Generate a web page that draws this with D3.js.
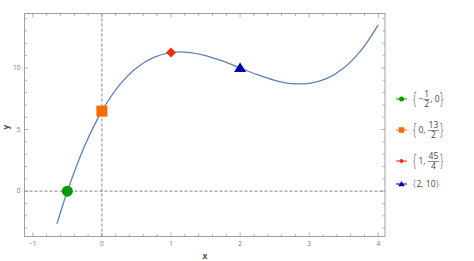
<!DOCTYPE html>
<html>
<head>
<meta charset="utf-8">
<script src="https://cdn.jsdelivr.net/npm/d3@7"></script>
<style>
  body { margin: 0; background: #fff; }
  svg { display: block; font-family: "Open Sans", sans-serif; }
</style>
</head>
<body>
<div id="chart"></div>
<script>
// curve samples
let curveX = [-0.65, -0.5, -0.25, 0, 0.25, 0.5, 0.75, 1, 1.25, 1.5, 1.75, 2, 2.25, 2.5, 2.75, 3, 3.25, 3.5, 3.75, 4];
let curveY = [-2.65, 0, 3.67, 6.5, 8.58, 10.0, 10.86, 11.25, 11.27, 11.0, 10.55, 10, 9.45, 9.0, 8.73, 8.75, 9.14, 10.0, 11.42, 13.5];

// highlighted points
let pointX = [-0.5, 0, 1, 2];
let pointY = [0, 6.5, 11.25, 10];
let pointShapes = ["circle", "square", "diamond", "triangle"];
let pointColors = ["#009a00", "#ff6a00", "#e8300a", "#0000aa"];

// legend labels: strings are plain text, pairs are fractions [num, den]
let legendLabels = [
    ["\u2212", ["1", "2"], ", 0"],
    ["0, ", ["13", "2"]],
    ["1, ", ["45", "4"]],
    ["2, 10"]
];

let xTicks = [-1, 0, 1, 2, 3, 4];
let yTicks = [0, 5, 10];

let width = 474, height = 261;
let frame = {left: 24.5, right: 385, top: 13.5, bottom: 236.5};

let svg = d3.select("#chart").append("svg")
    .attr("width", width)
    .attr("height", height);

let x = d3.scaleLinear().domain([-1.12, 4.097]).range([frame.left, frame.right]);
let y = d3.scaleLinear().domain([-3.68, 14.42]).range([frame.bottom, frame.top]);

let frameColor = "#a0a0a0";
let labelColor = "#777";

// dashed axes through origin
svg.append("line")
    .attr("x1", x(0)).attr("x2", x(0))
    .attr("y1", frame.top).attr("y2", frame.bottom)
    .attr("stroke", "#777").attr("stroke-width", 0.9)
    .attr("stroke-dasharray", "3,2");
svg.append("line")
    .attr("x1", frame.left).attr("x2", frame.right)
    .attr("y1", y(0)).attr("y2", y(0))
    .attr("stroke", "#777").attr("stroke-width", 0.9)
    .attr("stroke-dasharray", "3,2");

// frame
svg.append("rect")
    .attr("x", frame.left).attr("y", frame.top)
    .attr("width", frame.right - frame.left)
    .attr("height", frame.bottom - frame.top)
    .attr("fill", "none")
    .attr("stroke", frameColor)
    .attr("stroke-width", 1);

// ticks on all four sides, pointing inward
let xMinor = d3.range(-1, 4.01, 0.2).filter(v => x(v) > frame.left && x(v) < frame.right);
let yMinor = d3.range(-3, 14.01, 1);

function isMajor(v, list) {
    return list.some(t => Math.abs(t - v) < 1e-6);
}

xMinor.forEach(v => {
    let len = isMajor(v, xTicks) ? 4 : 2.5;
    svg.append("line").attr("x1", x(v)).attr("x2", x(v))
        .attr("y1", frame.bottom).attr("y2", frame.bottom - len)
        .attr("stroke", frameColor).attr("stroke-width", 0.8);
    svg.append("line").attr("x1", x(v)).attr("x2", x(v))
        .attr("y1", frame.top).attr("y2", frame.top + len)
        .attr("stroke", frameColor).attr("stroke-width", 0.8);
});
yMinor.forEach(v => {
    let len = isMajor(v, yTicks) ? 4 : 2.5;
    svg.append("line").attr("y1", y(v)).attr("y2", y(v))
        .attr("x1", frame.left).attr("x2", frame.left + len)
        .attr("stroke", frameColor).attr("stroke-width", 0.8);
    svg.append("line").attr("y1", y(v)).attr("y2", y(v))
        .attr("x1", frame.right).attr("x2", frame.right - len)
        .attr("stroke", frameColor).attr("stroke-width", 0.8);
});

// tick labels
svg.selectAll(".xlab").data(xTicks).enter().append("text")
    .attr("x", d => x(d))
    .attr("y", frame.bottom + 9)
    .attr("text-anchor", "middle")
    .attr("font-size", 6.5)
    .attr("fill", labelColor)
    .text(d => d < 0 ? "\u2212" + Math.abs(d) : d);
svg.selectAll(".ylab").data(yTicks).enter().append("text")
    .attr("x", frame.left - 4)
    .attr("y", d => y(d) + 2.3)
    .attr("text-anchor", "end")
    .attr("font-size", 6.5)
    .attr("fill", labelColor)
    .text(d => d);

// axis titles
svg.append("text")
    .attr("x", 205).attr("y", 258.5)
    .attr("text-anchor", "middle")
    .attr("font-size", 8.5).attr("font-weight", "bold")
    .attr("fill", "#555")
    .text("x");
svg.append("text")
    .attr("transform", "translate(9,127) rotate(-90)")
    .attr("text-anchor", "middle")
    .attr("font-size", 8.5).attr("font-weight", "bold")
    .attr("fill", "#555")
    .text("y");

// curve
let line = d3.line()
    .x((d, i) => x(curveX[i]))
    .y((d, i) => y(curveY[i]))
    .curve(d3.curveCatmullRom);
svg.append("path")
    .datum(curveX)
    .attr("d", line)
    .attr("fill", "none")
    .attr("stroke", "#5e81b5")
    .attr("stroke-width", 1.3);

// marker drawing
function drawMarker(g, shape, cx, cy, color, s) {
    if (shape === "circle") {
        g.append("circle").attr("cx", cx).attr("cy", cy).attr("r", s * 0.5).attr("fill", color);
    } else if (shape === "square") {
        g.append("rect").attr("x", cx - s / 2).attr("y", cy - s / 2)
            .attr("width", s).attr("height", s).attr("fill", color);
    } else if (shape === "diamond") {
        let h = s * 0.5;
        g.append("path").attr("d", `M${cx},${cy - h}L${cx + h},${cy}L${cx},${cy + h}L${cx - h},${cy}Z`)
            .attr("fill", color);
    } else {
        let h = s * 0.5;
        g.append("path").attr("d", `M${cx},${cy - h}L${cx + h * 1.1},${cy + h * 0.75}L${cx - h * 1.1},${cy + h * 0.75}Z`)
            .attr("fill", color);
    }
}

let markerSizes = [11, 11, 10, 11];
pointX.forEach((px, i) => {
    drawMarker(svg, pointShapes[i], x(px), y(pointY[i]), pointColors[i], markerSizes[i]);
});

// legend
let legendY = [99, 130, 161, 184];
let legend = svg.append("g").attr("class", "legend");
let legendFont = 8.5;

legendLabels.forEach((parts, i) => {
    let ly = legendY[i];
    legend.append("line")
        .attr("x1", 396).attr("x2", 407)
        .attr("y1", ly).attr("y2", ly)
        .attr("stroke", pointColors[i]).attr("stroke-width", 1);
    drawMarker(legend, pointShapes[i], 401.5, ly, pointColors[i], [5, 5.5, 5, 6][i]);

    let hasFrac = parts.some(p => Array.isArray(p));
    let cx = 413;
    let braceSize = hasFrac ? 16 : legendFont;
    let brace = legend.append("text")
        .attr("x", cx).attr("y", ly + (hasFrac ? 5 : 3))
        .attr("font-size", braceSize)
        .attr("font-weight", 300)
        .attr("fill", "#444")
        .attr("transform", hasFrac ? `translate(${cx},${ly}) scale(0.6,1) translate(${-cx},${-ly})` : null)
        .text("{");
    cx += hasFrac ? 5.5 : 3.5;

    parts.forEach(p => {
        if (Array.isArray(p)) {
            let num = legend.append("text")
                .attr("y", ly - 2).attr("font-size", legendFont)
                .attr("fill", "#444").attr("text-anchor", "middle").text(p[0]);
            let den = legend.append("text")
                .attr("y", ly + 8).attr("font-size", legendFont)
                .attr("fill", "#444").attr("text-anchor", "middle").text(p[1]);
            let w = Math.max(num.node().getComputedTextLength(), den.node().getComputedTextLength()) + 1.5;
            num.attr("x", cx + w / 2);
            den.attr("x", cx + w / 2);
            legend.append("line")
                .attr("x1", cx).attr("x2", cx + w)
                .attr("y1", ly + 0.5).attr("y2", ly + 0.5)
                .attr("stroke", "#444").attr("stroke-width", 0.6);
            cx += w + 0.5;
        } else {
            let t = legend.append("text")
                .attr("x", cx).attr("y", ly + 3)
                .attr("font-size", legendFont)
                .attr("fill", "#444")
                .attr("xml:space", "preserve")
                .style("white-space", "pre")
                .text(p);
            cx += t.node().getComputedTextLength();
        }
    });

    legend.append("text")
        .attr("x", cx + 0.5).attr("y", ly + (hasFrac ? 5 : 3))
        .attr("font-size", braceSize)
        .attr("font-weight", 300)
        .attr("fill", "#444")
        .attr("transform", hasFrac ? `translate(${cx + 0.5},${ly}) scale(0.6,1) translate(${-(cx + 0.5)},${-ly})` : null)
        .text("}");
});
</script>
</body>
</html>
